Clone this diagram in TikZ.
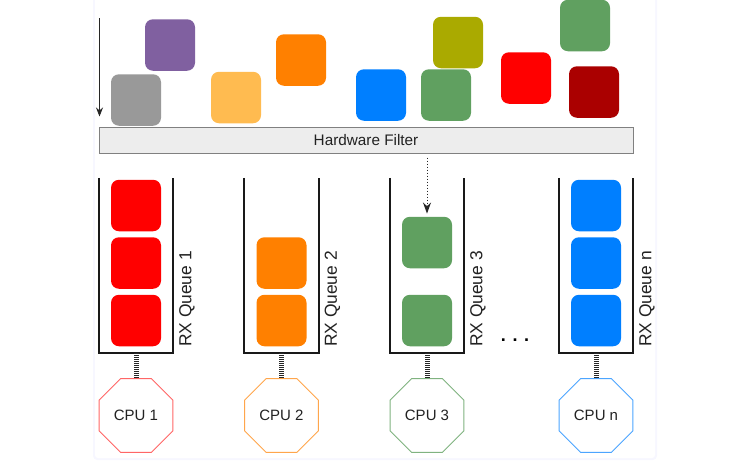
\documentclass[tikz,border=0pt]{standalone}
\usepackage{fontspec}
\setmainfont{Liberation Sans}
\usepackage{tikz}
\usetikzlibrary{shapes.geometric, arrows.meta}
\definecolor{pktred}{HTML}{FF0000}
\definecolor{pktorange}{HTML}{FF8000}
\definecolor{pktblue}{HTML}{007FFF}
\definecolor{pktgreen}{HTML}{60A060}
\definecolor{pktpurple}{HTML}{8060A0}
\definecolor{pktgrey}{HTML}{999999}
\definecolor{pktyellow}{HTML}{FFBB50}
\definecolor{pktolive}{HTML}{AAAA00}
\definecolor{pktdark}{HTML}{AA0000}
\definecolor{inktext}{HTML}{222222}
\tikzstyle{packet} = [rectangle, rounded corners=8pt, minimum width=50pt, minimum height=51.5pt, inner sep=0pt]
\tikzstyle{filterbox} = [rectangle, minimum width=534pt, minimum height=26pt, inner sep=0pt, text centered, draw=black!50, line width=1pt, fill=black!7, text=inktext, font=\fontsize{15.3pt}{17pt}\selectfont]
\tikzstyle{queue} = [rectangle, minimum width=74pt, minimum height=175pt, inner sep=0pt]
\tikzstyle{wall} = [line width=2.2pt, black!90]
\tikzstyle{cpu} = [regular polygon, regular polygon sides=8, minimum size=80pt, inner sep=0pt, line width=1pt, fill=white, text=inktext, font=\fontsize{15pt}{17pt}\selectfont]
\tikzstyle{qlabel} = [inner sep=0pt, text=inktext, font=\fontsize{17.4pt}{19pt}\selectfont]
\tikzstyle{spring} = [line width=5pt, dash pattern=on 1pt off 1pt, black!85]
\tikzstyle{arrow} = [line width=0.8pt, -{Stealth[length=9pt, width=7pt]}, black!85]
\begin{document}
\begin{tikzpicture}[x=1pt, y=1pt, node distance=40pt]
		\useasboundingbox (0,0) rectangle (738,-464);
		% card behind everything
		\fill [blue!3!white, rounded corners=4pt] (93,4) rectangle (657,-460);
		\fill [white, rounded corners=3pt] (95,4) rectangle (655,-458);
		\node (filter) at (366,-140) [filterbox] {Hardware Filter};
		% packets on their way down
		\node (gry) [packet, fill=pktgrey, above of=filter, xshift=-230pt] {};
		\node (pur) [packet, fill=pktpurple, above of=gry, xshift=34pt, yshift=15pt] {};
		\node (yel) [packet, fill=pktyellow, right of=gry, xshift=60pt, yshift=2.5pt] {};
		\node (ora) [packet, fill=pktorange, right of=yel, xshift=25pt, yshift=37.5pt] {};
		\node (blu) [packet, fill=pktblue, right of=yel, xshift=105pt, yshift=2.5pt] {};
		\node (grn) [packet, fill=pktgreen, right of=blu, xshift=25pt] {};
		\node (oli) [packet, fill=pktolive, above of=grn, xshift=12pt, yshift=12.5pt] {};
		\node (red) [packet, fill=pktred, right of=grn, xshift=40pt, yshift=17pt] {};
		\node (drd) [packet, fill=pktdark, right of=red, xshift=28pt, yshift=-14pt] {};
		\node (gtp) [packet, fill=pktgreen, above of=drd, xshift=-9pt, yshift=26.5pt] {};
		% queues
		\node (q1) [queue, below of=filter, xshift=-230pt, yshift=-85.5pt] {};
		\node (q2) [queue, right of=q1, xshift=105.5pt] {};
		\node (q3) [queue, right of=q2, xshift=105.5pt] {};
		\node (qn) [queue, right of=q3, xshift=129pt] {};
		\draw [wall] (q1.north west) -- (q1.south west) -- (q1.south east) -- (q1.north east);
		\draw [wall] (q2.north west) -- (q2.south west) -- (q2.south east) -- (q2.north east);
		\draw [wall] (q3.north west) -- (q3.south west) -- (q3.south east) -- (q3.north east);
		\draw [wall] (qn.north west) -- (qn.south west) -- (qn.south east) -- (qn.north east);
		\node (lbl1) [qlabel, right of=q1, xshift=11pt, yshift=-33.5pt] {\rotatebox{90}{RX Queue 1}};
		\node (lbl2) [qlabel, right of=q2, xshift=11pt, yshift=-33.5pt] {\rotatebox{90}{RX Queue 2}};
		\node (lbl3) [qlabel, right of=q3, xshift=11pt, yshift=-33.5pt] {\rotatebox{90}{RX Queue 3}};
		\node (lbln) [qlabel, right of=qn, xshift=11pt, yshift=-33.5pt] {\rotatebox{90}{RX Queue n}};
		\node (dots) [right of=q3, xshift=48pt, yshift=-75pt, inner sep=0pt, text=black, font=\fontsize{18pt}{20pt}\selectfont\bfseries] {. . .};
		% packets waiting in the queues
		\node (r3) [packet, fill=pktred, below of=q1, yshift=-15pt] {};
		\node (r2) [packet, fill=pktred, above of=r3, yshift=17.5pt] {};
		\node (r1) [packet, fill=pktred, above of=r2, yshift=17.5pt] {};
		\node (o2) [packet, fill=pktorange, below of=q2, yshift=-15pt] {};
		\node (o1) [packet, fill=pktorange, above of=o2, yshift=17.5pt] {};
		\node (g2) [packet, fill=pktgreen, below of=q3, yshift=-15pt] {};
		\node (g1) [packet, fill=pktgreen, above of=g2, yshift=38pt] {};
		\node (b3) [packet, fill=pktblue, below of=qn, yshift=-15pt] {};
		\node (b2) [packet, fill=pktblue, above of=b3, yshift=17.5pt] {};
		\node (b1) [packet, fill=pktblue, above of=b2, yshift=17.5pt] {};
		% cpus
		\node (cpu1) [cpu, draw=red!60, below of=q1, yshift=-110pt] {CPU 1};
		\node (cpu2) [cpu, draw=pktorange!70, below of=q2, yshift=-110pt] {CPU 2};
		\node (cpu3) [cpu, draw=pktgreen!80, below of=q3, yshift=-110pt] {CPU 3};
		\node (cpun) [cpu, draw=pktblue!70, below of=qn, yshift=-110pt] {CPU n};
		\draw [spring] (q1) -- (cpu1);
		\draw [spring] (q2) -- (cpu2);
		\draw [spring] (q3) -- (cpu3);
		\draw [spring] (qn) -- (cpun);
		% arrows
		\coordinate (fall) at (99.5,-18);
		\draw [arrow] (fall) -- ([shift={(0,10)}]fall |- filter.north);
		\draw [line width=1pt, dotted, -{Stealth[length=11pt, width=8pt]}, black!85] ([yshift=-4pt]filter.south -| g1.north) -- ([yshift=3pt]g1.north);
\end{tikzpicture}
\end{document}
